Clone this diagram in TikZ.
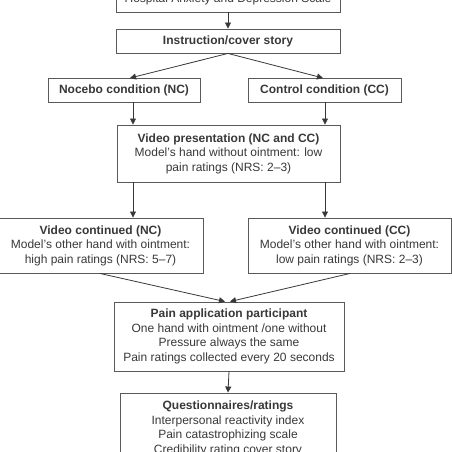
\documentclass[tikz,border=0pt]{standalone}
\usepackage{fontspec}
\setmainfont{Liberation Sans}
\usetikzlibrary{arrows.meta}
\definecolor{txt}{HTML}{383838}
\definecolor{edge}{HTML}{5A5A5A}
\begin{document}
\begin{tikzpicture}[x=1pt,y=-1pt,
  box/.style={draw=edge,line width=0.9pt,text=txt,align=center,inner sep=0pt,
    font=\fontsize{12}{14.5}\selectfont},
  conn/.style={draw=txt,line width=0.8pt,-{Triangle[width=6pt,length=6pt]}}]
\useasboundingbox (0,0) rectangle (452,452);
\node[box,minimum width=224pt,minimum height=26pt] (hads) at (228,-1) {Hospital Anxiety and Depression Scale};
\node[box,minimum width=224pt,minimum height=24pt] (instr) at (228,41) {\textbf{Instruction/cover story}};
\node[box,minimum width=152pt,minimum height=24pt] (nc) at (124,90) {\textbf{Nocebo condition (NC)}};
\node[box,minimum width=153pt,minimum height=24pt] (cc) at (324.5,90) {\textbf{Control condition (CC)}};
\node[box,minimum width=223pt,minimum height=57pt] (video) at (228.5,153.5) {\textbf{Video presentation (NC and CC)}\\Model's hand without ointment: low\\pain ratings (NRS: 2--3)};
\node[box,minimum width=205pt,minimum height=55pt] (vnc) at (100.5,245.5) {\textbf{Video continued (NC)}\\Model's other hand with ointment:\\high pain ratings (NRS: 5--7)};
\node[box,minimum width=203pt,minimum height=55pt] (vcc) at (349.5,245.5) {\textbf{Video continued (CC)}\\Model's other hand with ointment:\\low pain ratings (NRS: 2--3)};
\node[box,minimum width=230pt,minimum height=69pt] (pain) at (229,336.5) {\textbf{Pain application participant}\\One hand with ointment /one without\\Pressure always the same\\Pain ratings collected every 20 seconds};
\node[box,minimum width=216pt,minimum height=71pt] (quest) at (228,428.5) {\textbf{Questionnaires/ratings}\\Interpersonal reactivity index\\Pain catastrophizing scale\\Credibility rating cover story};
\coordinate (ncin) at (130,78);
\coordinate (ccin) at (323,78);
\draw[conn] (hads.south) -- (instr.north);
\draw[conn] (instr.south) -- (ncin);
\draw[conn] (instr.south) -- (ccin);
\draw[conn] (nc.south -| 133,0) -- (video.north -| 133,0);
\draw[conn] (cc.south -| 325,0) -- (video.north -| 325,0);
\draw[conn] (video.south -| 133,0) -- (vnc.north -| 133,0);
\draw[conn] (video.south -| 325,0) -- (vcc.north -| 325,0);
\draw[conn] (vnc.south -| 100,0) -- (pain.north -| 225,0);
\draw[conn] (vcc.south -| 350,0) -- (pain.north -| 230,0);
\draw[conn] (pain.south) -- (quest.north);
\end{tikzpicture}
\end{document}
